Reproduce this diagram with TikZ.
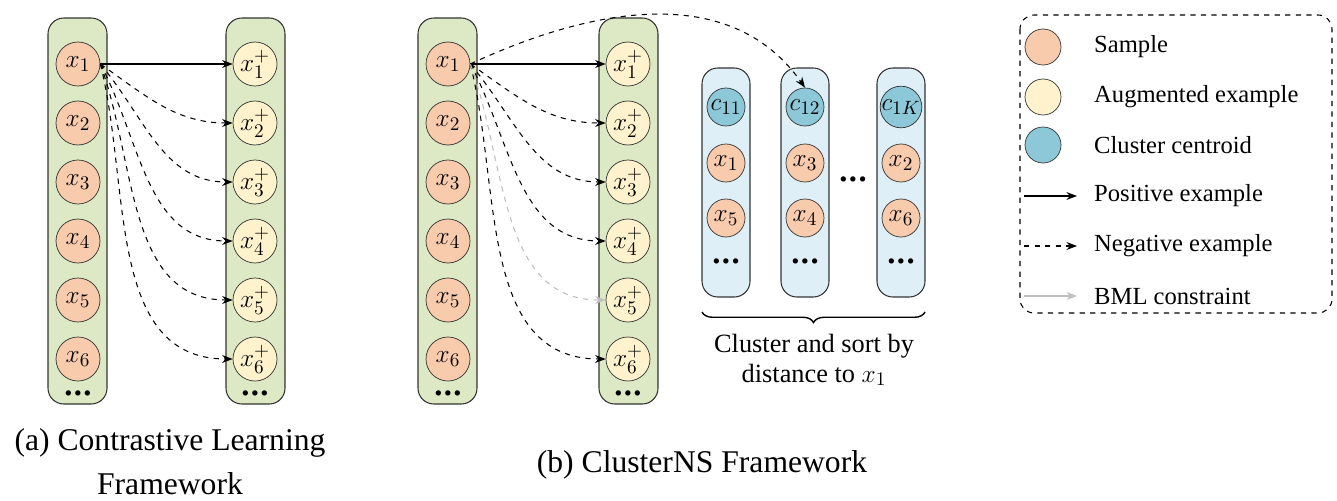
\documentclass[tikz,border=0pt]{standalone}
\usepackage{fontspec}
\setmainfont{Liberation Serif}
\usetikzlibrary{arrows.meta,decorations.pathreplacing}
\definecolor{barGreen}{RGB}{221,232,196}
\definecolor{barBlue}{RGB}{222,239,248}
\definecolor{smpOrange}{RGB}{248,203,173}
\definecolor{augYellow}{RGB}{255,242,204}
\definecolor{cenBlue}{RGB}{140,200,216}
\newcommand{\tdots}{$\scriptscriptstyle\bullet\,\bullet\,\bullet$}
\tikzset{
  bar/.style={draw=black!80, rounded corners=9pt, line width=0.6pt},
  smp/.style={circle, draw=black!80, fill=smpOrange, minimum size=44*0.02cm, inner sep=0pt, font=\fontsize{15}{15}\selectfont},
  aug/.style={smp, fill=augYellow},
  cen/.style={smp, fill=cenBlue},
  small/.style={minimum size=38*0.02cm},
  posarr/.style={-{Stealth[length=6pt]}, line width=0.6pt},
  negarr/.style={posarr, dashed},
  bmlarr/.style={negarr, draw=black!25},
  dots/.style={font=\fontsize{14}{14}\selectfont}
}
\begin{document}
\begin{tikzpicture}[x=0.02cm,y=-0.02cm]
    \useasboundingbox (0,0) rectangle (1337,500);

    % Colonnes (a)
    \draw[bar, fill=barGreen] (48,18) rectangle (107,404);
    \draw[bar, fill=barGreen] (226,18) rectangle (285,404);
    \foreach \i in {1,...,6} {
        \node[smp] (a\i) at (78,{64+59*(\i-1)}) {$x_{\i}$};
        \node[aug] (ap\i) at (255,{64+59*(\i-1)}) {$x_{\i}^{+}$};
    }
    \node[dots] (ad) at (78,394) {\tdots};
    \node[dots] (apd) at (255,394) {\tdots};

    % Fleches (a)
    \draw[posarr] (a1.east) -- (ap1.west);
    \foreach \i/\a in {2/-35,3/-50,4/-62,5/-70,6/-76}
        \draw[negarr] (a1.east) to[out=\a,in=180] (ap\i.west);

    % Colonnes (b)
    \draw[bar, fill=barGreen] (418,18) rectangle (477,404);
    \draw[bar, fill=barGreen] (599,18) rectangle (658,404);
    \foreach \i in {1,...,6} {
        \node[smp] (b\i) at (448,{64+59*(\i-1)}) {$x_{\i}$};
        \node[aug] (bp\i) at (628,{64+59*(\i-1)}) {$x_{\i}^{+}$};
    }
    \node[dots] (bd) at (448,394) {\tdots};
    \node[dots] (bpd) at (628,394) {\tdots};

    % Fleches (b)
    \draw[posarr] (b1.east) -- (bp1.west);
    \foreach \i/\a in {2/-35,3/-50,4/-62,6/-76}
        \draw[negarr] (b1.east) to[out=\a,in=180] (bp\i.west);
    \draw[bmlarr] (b1.east) to[out=-70,in=180] (bp5.west);

    % Clusters
    \foreach \c/\x/\k/\p/\q in {1/726/11/1/5, 2/805/12/3/4, 3/901/1K/2/6} {
        \draw[bar, fill=barBlue] (\x-24,68) rectangle (\x+24,297);
        \node[cen, small] (c\c) at (\x,107) {$c_{\k}$};
        \node[smp, small] (cp\c) at (\x,163) {$x_{\p}$};
        \node[smp, small] (cq\c) at (\x,218) {$x_{\q}$};
        \node[dots] (cd\c) at (\x,262) {\tdots};
    }
    \draw[negarr] (b1.east) to[out=25,in=125] (c2.north);
    \node[dots] (mid) at (853,180) {\tdots};
    \draw[line width=0.8pt, decorate, decoration={brace, mirror, amplitude=6pt}]
        (702,312) -- (925,312);
    \node[font=\fontsize{15}{17}\selectfont, align=center] (sorttxt) at (814,360)
        {Cluster and sort by\\distance to $x_1$};

    % Legende
    \draw[dashed, rounded corners=8pt, line width=0.6pt] (1020,15) rectangle (1332,313);
    \node[smp, minimum size=36*0.02cm] (ls) at (1043,47) {};
    \node[aug, minimum size=36*0.02cm] (la) at (1043,97) {};
    \node[cen, minimum size=36*0.02cm] (lc) at (1043,145) {};
    \coordinate (lp0) at (1024,196); \coordinate (lp1) at (1077,196);
    \coordinate (ln0) at (1024,246); \coordinate (ln1) at (1077,246);
    \coordinate (lb0) at (1024,296); \coordinate (lb1) at (1077,296);
    \draw[posarr] (lp0) -- (lp1);
    \draw[negarr] (ln0) -- (ln1);
    \draw[bmlarr, solid] (lb0) -- (lb1);
    \foreach \y/\t in {47/Sample, 97/Augmented example, 145/Cluster centroid,
                      196/Positive example, 246/Negative example, 296/BML constraint}
        \node[anchor=west, font=\fontsize{14}{14}\selectfont] at (1088,\y) {\t};

    % Legendes
    \node[font=\fontsize{18}{25}\selectfont, align=center] (capa) at (170,462)
        {(a) Contrastive Learning\\Framework};
    \node[font=\fontsize{18}{20}\selectfont] (capb) at (702,465) {(b) ClusterNS Framework};
\end{tikzpicture}
\end{document}
